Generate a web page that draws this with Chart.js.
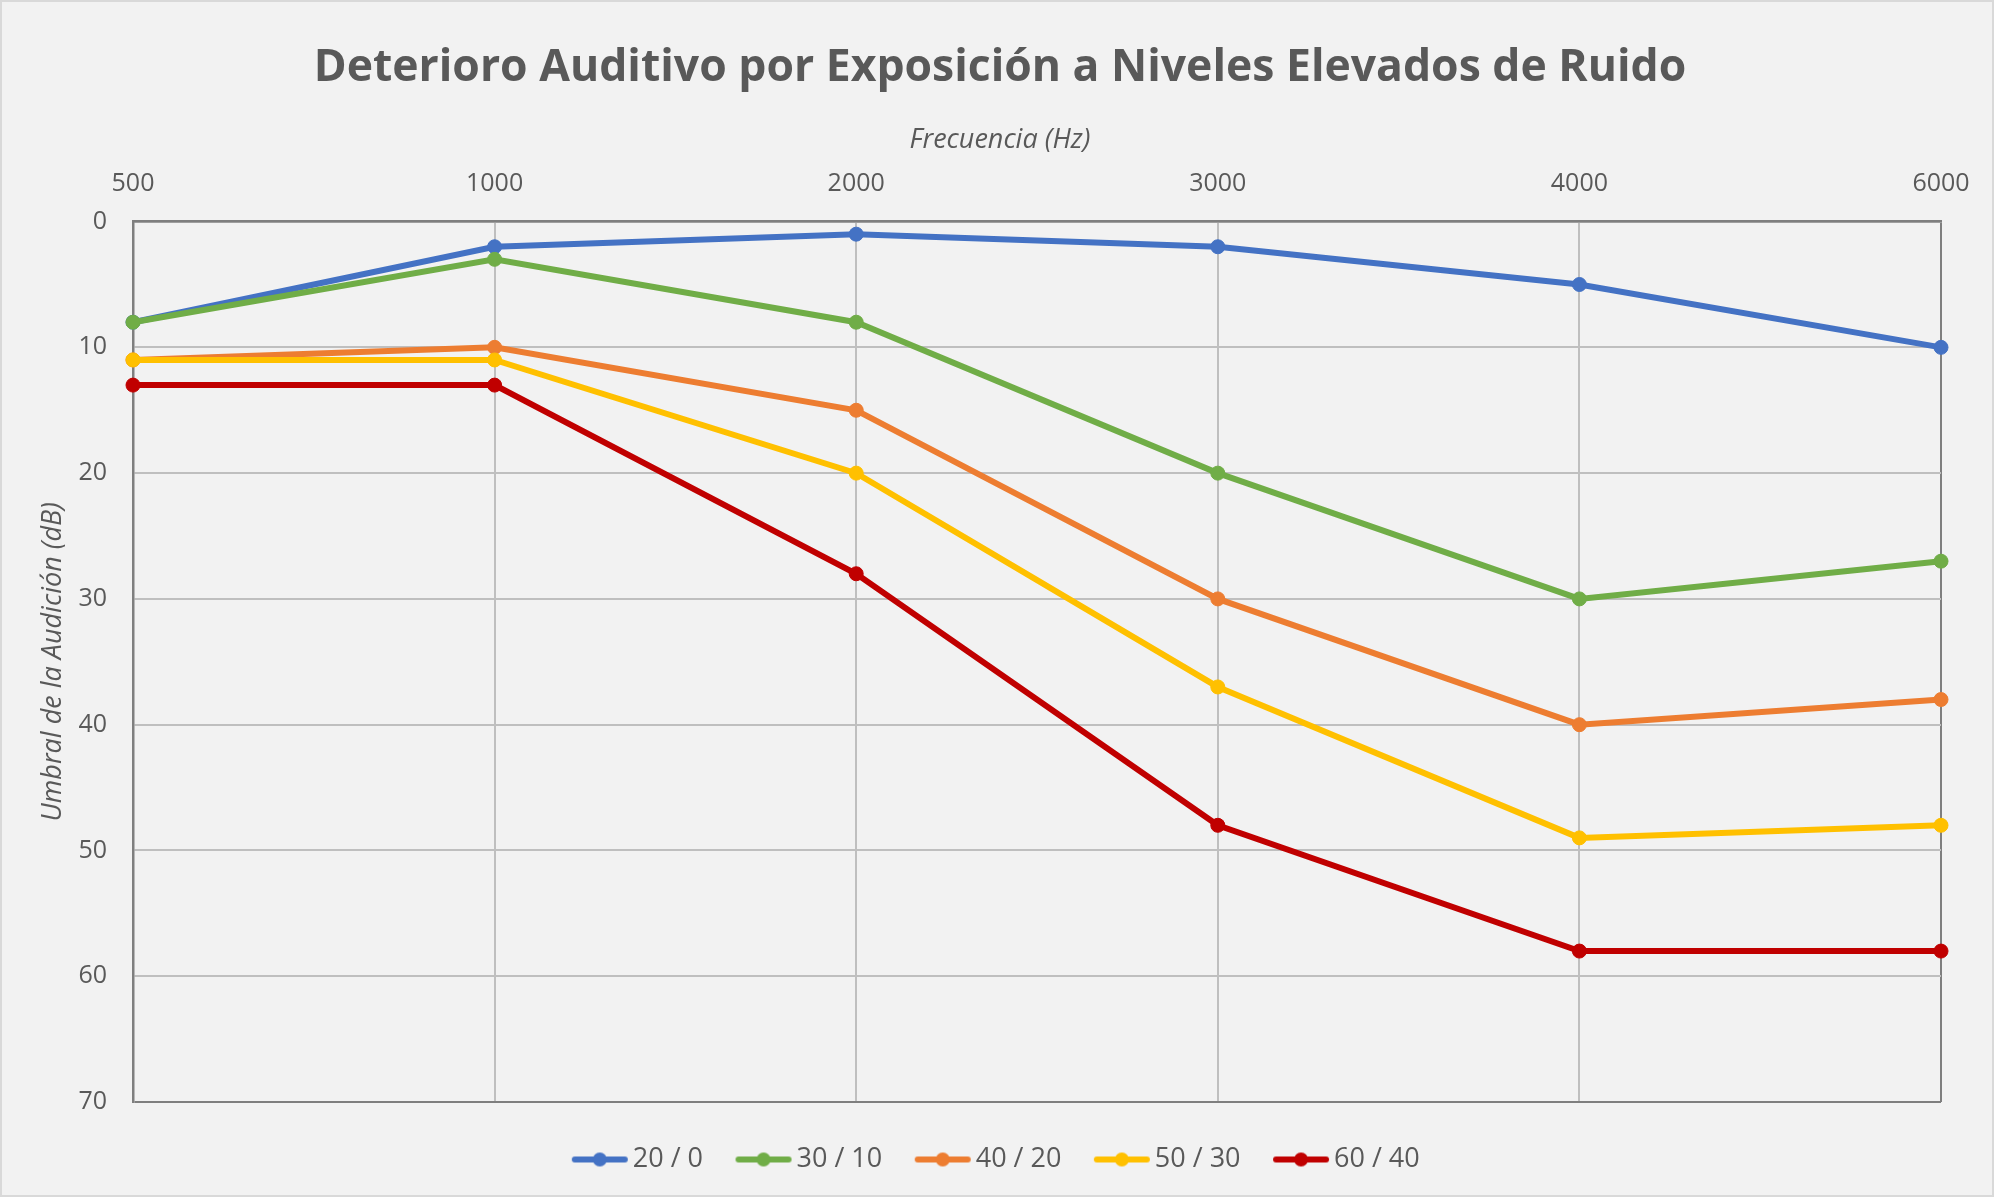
<!DOCTYPE html>
<html lang="es">
<head>
<meta charset="UTF-8">
<title>Deterioro Auditivo</title>
<script src="https://cdn.jsdelivr.net/npm/chart.js"></script>
<style>
  body { margin: 0; background: #f2f2f2; }
</style>
</head>
<body>
<canvas id="myChart" width="1994" height="1197"></canvas>
<script>
// data
const frequencies = ['500', '1000', '2000', '3000', '4000', '6000'];
const seriesNames = ['20 / 0', '30 / 10', '40 / 20', '50 / 30', '60 / 40'];
const s20_0  = [8, 2, 1, 2, 5, 10];
const s30_10 = [8, 3, 8, 20, 30, 27];
const s40_20 = [11, 10, 15, 30, 40, 38];
const s50_30 = [11, 11, 20, 37, 49, 48];
const s60_40 = [13, 13, 28, 48, 58, 58];
const seriesValues = [s20_0, s30_10, s40_20, s50_30, s60_40];
const seriesColors = ['#4472c4', '#70ad47', '#ed7d31', '#ffc000', '#c00000'];

const textColor = '#595959';
const gridColor = '#bfbfbf';
const frameColor = '#7f7f7f';

// legend marker: short line with a dot in the middle
function legendMarker(color) {
    const c = document.createElement('canvas');
    c.width = 58;
    c.height = 20;
    const g = c.getContext('2d');
    g.strokeStyle = color;
    g.lineWidth = 6;
    g.lineCap = 'round';
    g.beginPath();
    g.moveTo(4, 10);
    g.lineTo(54, 10);
    g.stroke();
    g.fillStyle = color;
    g.beginPath();
    g.arc(29, 10, 7, 0, Math.PI * 2);
    g.fill();
    return c;
}

const background = {
    id: 'background',
    beforeDraw(chart) {
        const ctx = chart.ctx;
        ctx.save();
        ctx.fillStyle = '#f2f2f2';
        ctx.fillRect(0, 0, chart.width, chart.height);
        ctx.strokeStyle = '#d9d9d9';
        ctx.lineWidth = 2;
        ctx.strokeRect(1, 1, chart.width - 2, chart.height - 2);
        ctx.restore();
    }
};

const datasets = seriesNames.map((name, i) => ({
    label: name,
    data: seriesValues[i],
    borderColor: seriesColors[i],
    backgroundColor: seriesColors[i],
    pointBackgroundColor: seriesColors[i],
    pointBorderColor: seriesColors[i],
    borderWidth: 6,
    pointRadius: 7,
    pointBorderWidth: 1,
    pointHoverRadius: 7,
    tension: 0,
    order: seriesNames.length - i
}));

// empty axes used only as spacers
const spacer = {
    display: true,
    grid: { display: false },
    border: { display: false },
    ticks: { display: false }
};

const config = {
    type: 'line',
    data: { labels: frequencies, datasets: datasets },
    plugins: [background],
    options: {
        responsive: false,
        devicePixelRatio: 1,
        animation: false,
        layout: {
            padding: { top: 20, left: 20, right: 14, bottom: 14 }
        },
        scales: {
            x: {
                position: 'top',
                offset: false,
                border: { color: frameColor, width: 2.5 },
                grid: {
                    drawTicks: false,
                    lineWidth: 2,
                    color: (c) => c.index === frequencies.length - 1 ? frameColor : gridColor
                },
                ticks: {
                    color: textColor,
                    padding: 23,
                    font: { family: 'Open Sans', size: 25 }
                },
                afterFit: (s) => { s.height = 65.4; }
            },
            y: {
                reverse: true,
                min: 0,
                max: 70,
                border: { color: frameColor, width: 2.5 },
                grid: {
                    drawTicks: false,
                    lineWidth: 2,
                    color: (c) => (c.index === 0 || c.tick.value === 70) ? frameColor : gridColor
                },
                ticks: {
                    stepSize: 10,
                    color: textColor,
                    padding: 26,
                    font: { family: 'Open Sans', size: 25 }
                },
                title: {
                    display: true,
                    text: 'Umbral de la Audición (dB)',
                    color: textColor,
                    padding: { top: 16.8, bottom: 0 },
                    font: { family: 'Open Sans', size: 27, style: 'italic' }
                },
                afterFit: (s) => { s.width = 113; }
            },
            yRight: Object.assign({ position: 'right', afterFit: (s) => { s.width = 39; } }, spacer),
            xBottom: Object.assign({ type: 'category', position: 'bottom', afterFit: (s) => { s.height = 3; } }, spacer)
        },
        plugins: {
            title: {
                display: true,
                text: 'Deterioro Auditivo por Exposición a Niveles Elevados de Ruido',
                color: textColor,
                padding: { top: 22, bottom: 0 },
                font: { family: 'Open Sans', size: 44.5, weight: 'bold' }
            },
            subtitle: {
                display: true,
                text: 'Frecuencia (Hz)',
                color: textColor,
                padding: { top: 28.4, bottom: 0 },
                font: { family: 'Open Sans', size: 27, style: 'italic' }
            },
            legend: {
                position: 'bottom',
                labels: {
                    usePointStyle: true,
                    pointStyleWidth: 39,
                    boxHeight: 20,
                    padding: 41,
                    color: textColor,
                    font: { family: 'Open Sans', size: 27 },
                    generateLabels: (chart) => chart.data.datasets.map((ds, i) => ({
                        text: ds.label,
                        pointStyle: legendMarker(ds.borderColor),
                        fillStyle: ds.borderColor,
                        strokeStyle: ds.borderColor,
                        lineWidth: 0,
                        fontColor: textColor,
                        hidden: false,
                        datasetIndex: i
                    }))
                }
            },
            tooltip: { enabled: false }
        }
    }
};

const myChart = new Chart(document.getElementById('myChart'), config);
</script>
</body>
</html>
